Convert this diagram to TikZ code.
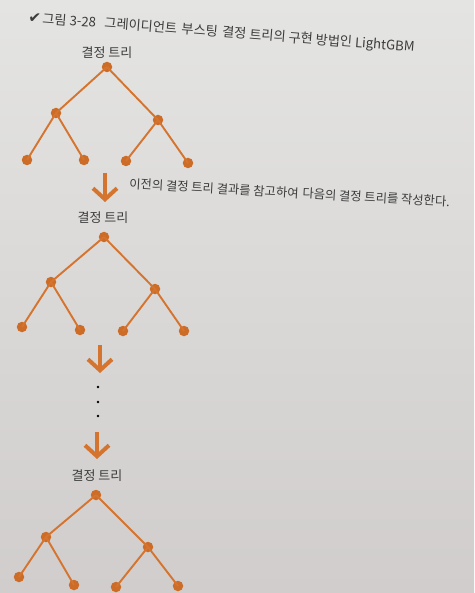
\documentclass[tikz,border=0pt]{standalone}
\usepackage{fontspec}
\setmainfont{Noto Sans CJK KR}
\newfontfamily\symfont{DejaVu Sans}
\usetikzlibrary{arrows.meta}
\definecolor{treeorange}{RGB}{212,116,46}
\definecolor{dotorange}{RGB}{205,108,38}
\definecolor{txtgray}{RGB}{60,60,60}
\definecolor{bgtop}{RGB}{228,228,226}
\definecolor{bgbot}{RGB}{208,205,204}
\tikzset{
  leafdot/.style={circle,fill=dotorange,inner sep=0pt,minimum size=10.5pt},
  edge/.style={draw=treeorange,line width=1.9pt},
  flowarrow/.style={draw=treeorange,line width=4pt,-{Straight Barb[length=11pt,width=24pt,line width=4pt]}},
  treelabel/.style={text=txtgray,font=\fontsize{13}{15}\selectfont,inner sep=0pt},
  titlepart/.style={text=txtgray,font=\fontsize{13.2}{15}\selectfont,anchor=base west,rotate=-4.4,inner sep=0pt},
  notepart/.style={text=txtgray,font=\fontsize{12.3}{14}\selectfont,anchor=base west,rotate=-3.3,inner sep=0pt},
  smalldot/.style={circle,fill=black,inner sep=0pt,minimum size=2.8pt},
}
\begin{document}
\begin{tikzpicture}[x=1pt,y=-1pt]
\shade[top color=bgtop,bottom color=bgbot] (0,0) rectangle (474,593);
\useasboundingbox (0,0) rectangle (474,593);

% title (split into pieces along the sloped base line)
\node[titlepart] (t0) at (28,22) {{\symfont\fontsize{15}{15}\selectfont ✔}};
\node[titlepart] (t1) at (t0.base east) {\hspace*{1pt}그림 3-28};
\node[titlepart] (t2) at (t1.base east) {\hspace*{8pt}그레이디언트};
\node[titlepart] (t3) at (t2.base east) {\hspace*{4pt}부스팅};
\node[titlepart] (t4) at (t3.base east) {\hspace*{4pt}결정 트리의 구현 방법인 LightGBM};

% tree 1
\node[treelabel] (l1) at (107,53) {결정 트리};
\node[leafdot] (a0) at (107,67) {};
\node[leafdot] (a1) at (56,113) {};
\node[leafdot] (a2) at (158,120) {};
\node[leafdot] (a3) at (27,160) {};
\node[leafdot] (a4) at (84,160) {};
\node[leafdot] (a5) at (126,161) {};
\node[leafdot] (a6) at (188,163) {};
\path[edge] (a0.center)--(a1.center) (a0.center)--(a2.center)
  (a1.center)--(a3.center) (a1.center)--(a4.center)
  (a2.center)--(a5.center) (a2.center)--(a6.center);

% arrow 1 and note
\coordinate (s1) at (105,173);
\coordinate (e1) at (105,202);
\draw[flowarrow] (s1)--(e1);
\node[notepart] (n1) at (129,188) {이전의 결정 트리 결과를 참고하여};
\node[notepart] (n2) at (n1.base east) {\hspace*{3.5pt}다음의 결정 트리를 작성한다.};

% tree 2
\node[treelabel] (l2) at (103,218) {결정 트리};
\node[leafdot] (b0) at (104,237) {};
\node[leafdot] (b1) at (51,282) {};
\node[leafdot] (b2) at (155,289) {};
\node[leafdot] (b3) at (22,327) {};
\node[leafdot] (b4) at (80,330) {};
\node[leafdot] (b5) at (123,331) {};
\node[leafdot] (b6) at (184,331) {};
\path[edge] (b0.center)--(b1.center) (b0.center)--(b2.center)
  (b1.center)--(b3.center) (b1.center)--(b4.center)
  (b2.center)--(b5.center) (b2.center)--(b6.center);

% arrow 2, dots, arrow 3
\coordinate (s2) at (100,345);
\coordinate (e2) at (100,373);
\draw[flowarrow] (s2)--(e2);
\node[smalldot] (d1) at (98,387) {};
\node[smalldot] (d2) at (98,402) {};
\node[smalldot] (d3) at (98,416) {};
\coordinate (s3) at (97,432);
\coordinate (e3) at (97,459);
\draw[flowarrow] (s3)--(e3);

% tree 3
\node[treelabel] (l3) at (97,476) {결정 트리};
\node[leafdot] (c0) at (96,495) {};
\node[leafdot] (c1) at (46,537) {};
\node[leafdot] (c2) at (148,547) {};
\node[leafdot] (c3) at (19,577) {};
\node[leafdot] (c4) at (74,585) {};
\node[leafdot] (c5) at (116,587) {};
\node[leafdot] (c6) at (178,586) {};
\path[edge] (c0.center)--(c1.center) (c0.center)--(c2.center)
  (c1.center)--(c3.center) (c1.center)--(c4.center)
  (c2.center)--(c5.center) (c2.center)--(c6.center);
\end{tikzpicture}
\end{document}
